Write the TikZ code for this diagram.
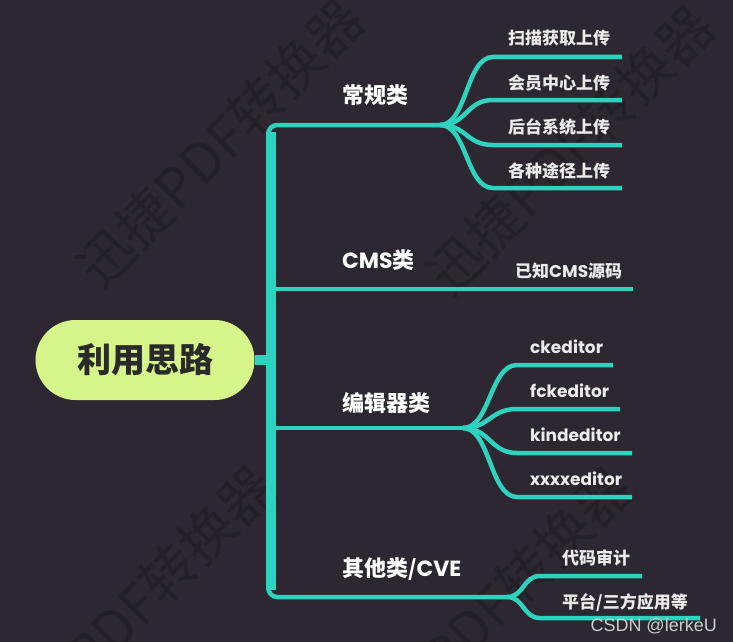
\documentclass[tikz,border=0pt]{standalone}
\usepackage{fontspec}
\newfontfamily\cjk{Noto Sans CJK SC}
\newfontfamily\lat{Poppins}
\newfontfamily\arialf{Liberation Sans}
\definecolor{bg}{HTML}{2C2730}
\definecolor{lineteal}{HTML}{2ED3BF}
\definecolor{pill}{HTML}{D5F489}
\definecolor{pilltext}{HTML}{2A2A2A}
\begin{document}
\begin{tikzpicture}[x=1pt,y=-1pt,
  rootbox/.style={fill=pill, rounded corners=40pt, minimum width=219pt, minimum height=80pt, inner sep=0pt, text=pilltext, font=\cjk\bfseries\fontsize{34}{40}\selectfont},
  head/.style={anchor=base west, inner sep=0pt, text=white, font=\cjk\bfseries\fontsize{22}{26}\selectfont},
  leaf/.style={anchor=base west, inner sep=0pt, text=white!92!black, font=\cjk\bfseries\fontsize{17}{20}\selectfont},
  br/.style={draw=lineteal, line width=4.5pt},
  trunkline/.style={draw=lineteal, line width=10pt},
  wm/.style={text=black, opacity=0.16, rotate=45, inner sep=0pt, font=\cjk\fontsize{55}{60}\selectfont},
  csdnmark/.style={anchor=base east, inner sep=0pt, text=white!80!black, font=\arialf\fontsize{18}{20}\selectfont}
]
\fill[bg] (0,0) rectangle (733,642);
\useasboundingbox (0,0) rectangle (733,642);

% watermarks
\node[wm] (wm1) at (220,143) {迅捷PDF转换器};
\node[wm] (wm2) at (570,150) {迅捷PDF转换器};
\node[wm] (wm3) at (132,610) {迅捷PDF转换器};
\node[wm] (wm4) at (488,612) {迅捷PDF转换器};

% root
\node[rootbox] (root) at (145,360) {利用思路};

% trunk coordinates
\coordinate (tk) at (271,360);
\coordinate (tt) at (268.25,125);
\coordinate (tb) at (268.25,597);
\coordinate (f1) at (440,125);
\coordinate (j2) at (268.25,289);
\coordinate (e2) at (633,289);
\coordinate (f3) at (463,428);
\coordinate (j3) at (268.25,428);
\coordinate (f4) at (507,597);

\draw[trunkline] (root.east) -- (tk);
\draw[trunkline] (271,132) -- (271,590);
\draw[br, rounded corners=9pt] (f1) -- (tt) -- (tb) -- (f4);
\draw[br] (j2) -- (e2);
\draw[br] (j3) -- (f3);

% branch 1 leaves
\coordinate (e11) at (622,57);
\coordinate (e12) at (622,100);
\coordinate (e13) at (622,145);
\coordinate (e14) at (622,188);
\draw[br] (f1) .. controls (467,125) and (466,57) .. (493,57) -- (e11);
\draw[br] (f1) .. controls (467,125) and (466,100) .. (493,100) -- (e12);
\draw[br] (f1) .. controls (467,125) and (466,145) .. (493,145) -- (e13);
\draw[br] (f1) .. controls (467,125) and (466,188) .. (493,188) -- (e14);

% branch 3 leaves
\coordinate (e31) at (613,365);
\coordinate (e32) at (620,409);
\coordinate (e33) at (632,453);
\coordinate (e34) at (632,497);
\draw[br] (f3) .. controls (490,428) and (490,365) .. (517,365) -- (e31);
\draw[br] (f3) .. controls (490,428) and (490,409) .. (517,409) -- (e32);
\draw[br] (f3) .. controls (490,428) and (490,453) .. (517,453) -- (e33);
\draw[br] (f3) .. controls (490,428) and (490,497) .. (517,497) -- (e34);

% branch 4 leaves
\coordinate (e41) at (642,576);
\coordinate (e42) at (700,618);
\draw[br] (f4) .. controls (524,597) and (523,576) .. (540,576) -- (e41);
\draw[br] (f4) .. controls (524,597) and (523,618) .. (540,618) -- (e42);

% headings
\node[head] (h1) at (342,103) {常规类};
\node[head] (h2) at (342,268) {{\lat CMS}类};
\node[head] (h3) at (342,411) {编辑器类};
\node[head] (h4) at (342,576) {其他类/{\lat CVE}};

% leaves
\node[leaf] (l11) at (508,45) {扫描获取上传};
\node[leaf] (l12) at (508,89) {会员中心上传};
\node[leaf] (l13) at (508,133) {后台系统上传};
\node[leaf] (l14) at (508,177) {各种途径上传};
\node[leaf] (l21) at (515,277) {已知{\lat CMS}源码};
\node[leaf] (l31) at (530,353) {\lat ckeditor};
\node[leaf] (l32) at (530,397) {\lat fckeditor};
\node[leaf] (l33) at (530,441) {\lat kindeditor};
\node[leaf] (l34) at (530,485) {\lat xxxxeditor};
\node[leaf] (l41) at (562,564) {代码审计};
\node[leaf] (l42) at (562,608) {平台/三方应用等};

\node[csdnmark] (csdn) at (717,631) {CSDN @lerkeU};
\end{tikzpicture}
\end{document}
